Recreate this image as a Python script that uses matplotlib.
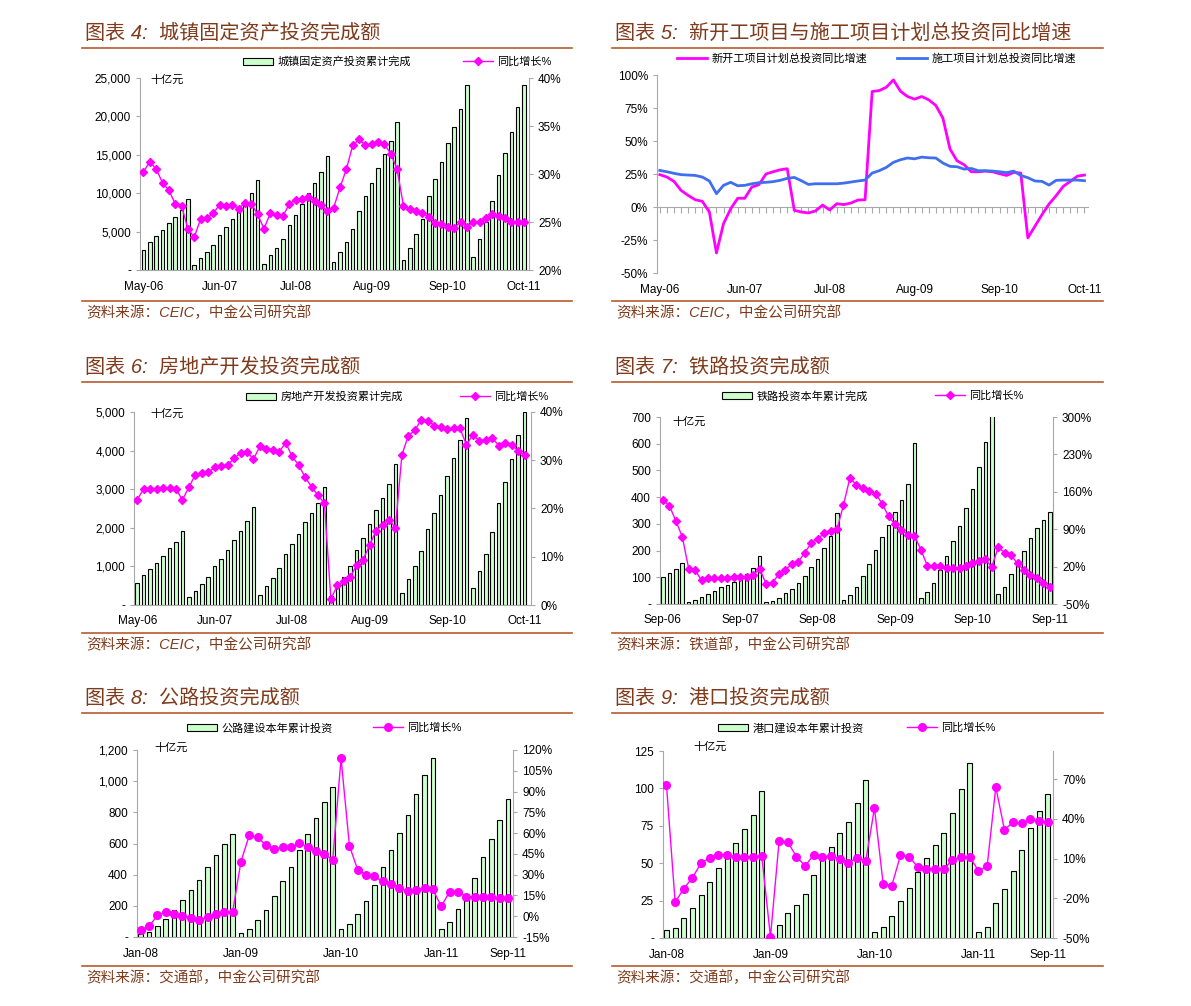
import numpy as np
import matplotlib
matplotlib.use("Agg")
import matplotlib.pyplot as plt
from matplotlib.ticker import FuncFormatter
from matplotlib.lines import Line2D
from matplotlib.patches import Patch

W, H = 1191, 1006
plt.rcParams["font.family"] = ["Liberation Sans", "Noto Sans CJK SC"]

BROWN = "#7f3b1c"
RULE = "#b85a2c"
GREY = "#a8a8a8"
BAR_FILL = "#ccffcc"
MAGENTA = "#ff00ff"
BLUE = "#3f6fef"

# ---- 图表4: 城镇固定资产投资 (May-06 .. Oct-11, no January) ----
fai_ticks = ["May-06", "Jun-07", "Jul-08", "Aug-09", "Sep-10", "Oct-11"]
fai_values = [2600, 3600, 4400, 5200, 6100, 6900, 7800, 9300,
              700, 1500, 2300, 3200, 4600, 5600, 6700, 7900, 8900, 10000, 11700,
              800, 1900, 2800, 4000, 5900, 7200, 8600, 10000, 11300, 12700, 14800,
              1100, 2400, 3700, 5300, 7700, 9600, 11300, 13300, 15100, 16800, 19300,
              1300, 2900, 4700, 6700, 9700, 11900, 14000, 16600, 18600, 21000, 24100,
              1700, 4000, 6200, 9000, 12400, 15200, 18000, 21200, 24100]
fai_growth = [30.2, 31.3, 30.5, 29.1, 28.3, 26.9, 26.7, 24.3,
              23.4, 25.3, 25.4, 25.9, 26.8, 26.7, 26.8, 26.4, 27.0, 26.9, 25.8,
              24.3, 25.9, 25.7, 25.6, 26.9, 27.3, 27.4, 27.6, 27.2, 26.8, 26.1,
              26.5, 28.6, 30.5, 33.0, 33.6, 33.0, 33.1, 33.3, 33.1, 32.1, 30.5,
              26.7, 26.4, 26.1, 25.9, 25.5, 24.9, 24.8, 24.5, 24.4, 25.0, 24.5,
              25.0, 25.0, 25.4, 25.8, 25.6, 25.4, 25.0, 25.0, 25.0]

# ---- 图表5: 新开工 / 施工项目计划总投资同比 ----
proj_ticks = ["May-06", "Jun-07", "Jul-08", "Aug-09", "Sep-10", "Oct-11"]
new_start = [24.5, 22.7, 19.4, 12.6, 8.8, 5.5, 4.3, -3.8, -34.8, -12.6,
             -1.5, 6.6, 6.6, 15.1, 16.9, 25.0, 26.7, 28.2, 29.0, -2.5,
             -3.8, -4.5, -3.0, 1.5, -2.3, 2.5, 1.8, 3.0, 5.3, 5.5,
             87.5, 88.2, 90.7, 96.3, 87.7, 83.7, 81.7, 83.7, 81.2, 76.9,
             67.3, 43.9, 35.0, 32.0, 26.7, 26.7, 27.2, 26.7, 25.2, 23.9,
             26.2, 25.7, -23.4, -14.6, -5.8, 2.3, 8.6, 15.6, 19.4, 23.4, 24.2]
under_constr = [27.7, 26.7, 25.5, 24.5, 24.2, 23.9, 22.7, 19.7, 10.1, 16.4,
                18.7, 16.1, 16.4, 17.6, 18.4, 18.7, 19.2, 20.2, 21.7, 22.4,
                19.9, 17.1, 17.6, 17.6, 17.6, 17.6, 18.1, 18.9, 19.7, 20.4,
                25.7, 27.5, 30.0, 33.8, 35.8, 37.1, 36.5, 37.8, 37.3, 37.1,
                33.3, 30.8, 30.5, 28.7, 29.2, 27.5, 27.5, 27.2, 26.7, 26.0,
                27.2, 23.9, 22.2, 19.7, 19.4, 16.6, 20.2, 20.4, 20.4, 20.4, 19.9]

# ---- 图表6: 房地产开发投资 ----
re_ticks = ["May-06", "Jun-07", "Jul-08", "Aug-09", "Sep-10", "Oct-11"]
re_values = [560, 770, 945, 1100, 1280, 1470, 1630, 1930,
             200, 350, 540, 730, 1000, 1200, 1420, 1690, 1930, 2170, 2540,
             250, 485, 700, 970, 1320, 1580, 1850, 2150, 2380, 2650, 3050,
             230, 470, 730, 1020, 1420, 1740, 2090, 2460, 2780, 3130, 3640,
             320, 685, 1000, 1390, 1980, 2380, 2840, 3350, 3800, 4280, 4840,
             430, 880, 1330, 1880, 2630, 3180, 3770, 4410, 5000]
re_growth = [21.8, 24.1, 24.0, 24.0, 24.3, 24.2, 24.0, 21.8,
             24.4, 27.0, 27.4, 27.5, 28.5, 28.9, 29.0, 30.4, 31.5, 31.8, 30.2,
             32.9, 32.4, 32.2, 31.8, 33.6, 30.8, 29.0, 26.5, 24.5, 22.7, 21.1,
             1.2, 4.1, 4.9, 5.8, 8.3, 9.4, 12.4, 15.4, 16.6, 17.7, 16.0,
             31.1, 35.1, 36.2, 38.4, 38.2, 37.2, 36.9, 36.5, 36.6, 36.6, 33.2,
             35.3, 34.0, 34.2, 34.7, 33.0, 33.6, 33.2, 32.0, 31.0]

# ---- 图表7: 铁路投资 (Sep-06 .. Sep-11) ----
rail_ticks = ["Sep-06", "Sep-07", "Sep-08", "Sep-09", "Sep-10", "Sep-11"]
rail_values = [100, 115, 130, 154,
               8, 16, 25, 36, 48, 64, 71, 83, 96, 114, 134, 178,
               8, 13, 24, 40, 55, 79, 106, 138, 170, 209, 253, 340,
               16, 35, 64, 106, 150, 201, 249, 295, 343, 390, 449, 603,
               24, 44, 80, 126, 178, 235, 291, 359, 430, 513, 606, 706,
               36, 64, 111, 150, 199, 246, 284, 316, 346]
rail_growth = [145, 134, 106, 76,
               16, 13, -6, -2, -2, -1, -1, 1, 1, 1, 4, 16,
               -12, -10, 6, 14, 25, 29, 46, 64, 72, 82, 86, 90,
               135, 186, 173, 167, 162, 156, 138, 114, 99, 89, 79, 78,
               52, 22, 21, 21, 18, 18, 18, 22, 26, 31, 34, 19,
               56, 46, 41, 26, 13, 4, -2, -10, -18]

# ---- 图表8: 公路投资 (Jan-08 .. Sep-11) ----
hw_ticks = ["Jan-08", "Jan-09", "Jan-10", "Jan-11", "Sep-11"]
hw_values = [20, 32, 71, 118, 176, 240, 303, 367, 447, 524, 597, 663,
             26, 52, 112, 174, 262, 361, 451, 556, 661, 766, 865, 964,
             52, 84, 150, 228, 333, 451, 556, 670, 781, 919, 1041, 1149,
             52, 97, 178, 264, 380, 511, 629, 754, 884]
hw_growth = [-10.2, -7.3, 0.7, 2.8, 1.4, 0.4, -1.3, -2.7, -0.8, 1.4, 3.1, 2.8,
             39.3, 58.4, 57.0, 51.2, 48.7, 49.7, 49.7, 52.6, 50.2, 47.3, 45.1, 40.5,
             114.0, 50.9, 33.3, 30.1, 28.7, 25.1, 23.6, 20.7, 17.9, 19.1, 20.5, 19.3,
             7.2, 17.6, 17.8, 14.2, 13.9, 13.9, 13.9, 13.5, 13.5]

# ---- 图表9: 港口投资 (Jan-08 .. Sep-11) ----
port_ticks = ["Jan-08", "Jan-09", "Jan-10", "Jan-11", "Sep-11"]
port_values = [5.6, 6.9, 13.2, 20.1, 29.0, 37.5, 46.9, 57.0, 63.8, 72.8, 81.9, 98.2,
               2.2, 8.5, 16.5, 22.1, 29.7, 42.2, 53.6, 60.9, 70.1, 77.7, 90.0, 105.8,
               4.0, 7.6, 14.5, 25.0, 33.3, 43.8, 53.3, 62.3, 70.5, 83.7, 99.6, 117.0,
               4.0, 7.6, 23.4, 32.6, 44.9, 58.9, 73.4, 85.0, 96.2]
port_growth = [65.5, -23.0, -12.7, -4.4, 6.7, 10.5, 13.0, 13.0, 11.3, 11.3, 11.3, 11.8,
               -49.2, 23.4, 22.3, 11.5, 4.4, 13.0, 11.3, 12.0, 9.7, 7.0, 10.5, 8.5,
               48.1, -8.9, -10.4, 12.3, 11.5, 3.4, 2.2, 2.2, 1.9, 9.0, 11.3, 11.3,
               0.7, 4.2, 63.9, 31.7, 37.5, 36.5, 39.5, 38.0, 37.5]


def fx(x):
    return x / W


def fy(y):
    return 1 - y / H


def px_axes(fig, l, t, r, b):
    return fig.add_axes([l / W, 1 - b / H, (r - l) / W, (b - t) / H])


def grey_spines(ax):
    for s in ax.spines.values():
        s.set_color(GREY)
        s.set_linewidth(0.8)
    ax.spines["top"].set_visible(False)
    ax.tick_params(colors=GREY, labelcolor="black", labelsize=8.5, length=3, width=0.8)


def frame(fig, x0, x1, title, title_y, rule_y, src, src_rule_y):
    fig.text(fx(x0 + 3), fy(title_y), title, fontsize=14.5, color=BROWN,
             style="italic", va="center", ha="left")
    fig.add_artist(Line2D([fx(x0), fx(x1)], [fy(rule_y), fy(rule_y)], color=RULE, lw=1.2))
    fig.add_artist(Line2D([fx(x0), fx(x1)], [fy(src_rule_y), fy(src_rule_y)], color=RULE, lw=1.2))
    fig.text(fx(x0 + 4), fy(src_rule_y + 12), src, fontsize=10.5, color=BROWN,
             style="italic", va="center", ha="left")


def legend_item(fig, handle, label, x, y):
    fig.legend([handle], [label], loc="center left", bbox_to_anchor=(fx(x), fy(y)),
               frameon=False, fontsize=8, borderpad=0, borderaxespad=0,
               handlelength=2.7, handletextpad=0.4)


def bar_line_panel(fig, box, values, growth, tick_labels, tick_step, xlim,
                   ylim_l, yticks_l, ylim_r, yticks_r, marker, ms,
                   bar_label, leg_bar_x, leg_line_x, leg_y, unit_xy, pad=8):
    ax = px_axes(fig, *box)
    x = np.arange(len(values))
    ax.bar(x, values, width=0.55, color=BAR_FILL, edgecolor="black", linewidth=0.8)
    ax.set_xlim(*xlim)
    ax.set_ylim(*ylim_l)
    ax.set_yticks(yticks_l)
    ax.yaxis.set_major_formatter(FuncFormatter(lambda v, p: "-" if v == 0 else f"{v:,.0f}"))
    ticks = [min(i * tick_step, len(values) - 1) for i in range(len(tick_labels))]
    ax.set_xticks(ticks)
    ax.set_xticklabels(tick_labels)
    grey_spines(ax)
    ax.spines["right"].set_visible(False)
    ax.tick_params(axis="x", length=0, pad=pad)

    ax2 = ax.twinx()
    ax2.plot(x, growth, color=MAGENTA, lw=1, marker=marker, ms=ms, mec=MAGENTA)
    ax2.set_ylim(*ylim_r)
    ax2.set_yticks(yticks_r)
    ax2.yaxis.set_major_formatter(FuncFormatter(lambda v, p: f"{v:.0f}%"))
    grey_spines(ax2)
    ax2.spines["left"].set_visible(False)
    ax2.spines["bottom"].set_visible(False)

    fig.text(fx(unit_xy[0]), fy(unit_xy[1]), "十亿元", fontsize=8, va="center", ha="left")
    legend_item(fig, Patch(facecolor=BAR_FILL, edgecolor="black", lw=0.8), bar_label, leg_bar_x, leg_y)
    legend_item(fig, Line2D([], [], color=MAGENTA, lw=1, marker=marker, ms=ms), "同比增长%", leg_line_x, leg_y)
    return ax, ax2


def main():
    fig = plt.figure(figsize=(W / 100, H / 100), dpi=100)

    # 图表4
    frame(fig, 82, 572, "图表 4:  城镇固定资产投资完成额", 33, 48,
          "资料来源：CEIC，中金公司研究部", 301)
    bar_line_panel(fig, (140, 78, 529, 270), fai_values, fai_growth, fai_ticks, 12,
                   (-0.55, 60.8), (0, 25000), range(0, 25001, 5000),
                   (20, 40), range(20, 41, 5), "D", 4.5,
                   "城镇固定资产投资累计完成", 243, 463, 62, (150, 80))

    # 图表5
    frame(fig, 612, 1103, "图表 5:  新开工项目与施工项目计划总投资同比增速", 33, 48,
          "资料来源：CEIC，中金公司研究部", 301)
    ax = px_axes(fig, 657, 75, 1088, 273)
    x = np.arange(len(new_start))
    ax.plot(x, new_start, color=MAGENTA, lw=2)
    ax.plot(x, under_constr, color=BLUE, lw=2)
    ax.set_xlim(-0.4, 60.5)
    ax.set_ylim(-50, 100)
    ax.set_yticks(range(-50, 101, 25))
    ax.yaxis.set_major_formatter(FuncFormatter(lambda v, p: f"{v:.0f}%"))
    ax.set_xticks([i * 12 for i in range(len(proj_ticks))])
    ax.set_xticklabels(proj_ticks)
    grey_spines(ax)
    ax.spines["right"].set_visible(False)
    ax.spines["bottom"].set_visible(False)
    ax.tick_params(axis="x", length=0, pad=8)
    zero = ax.secondary_xaxis(50 / 150)
    zero.set_xticks(x)
    zero.tick_params(axis="x", labelbottom=False, length=4, colors=GREY, width=0.8)
    zero.spines["bottom"].set_color(GREY)
    legend_item(fig, Line2D([], [], color=MAGENTA, lw=2), "新开工项目计划总投资同比增速", 677, 59)
    legend_item(fig, Line2D([], [], color=BLUE, lw=2), "施工项目计划总投资同比增速", 897, 59)

    # 图表6
    frame(fig, 82, 572, "图表 6:  房地产开发投资完成额", 367, 382,
          "资料来源：CEIC，中金公司研究部", 633)
    bar_line_panel(fig, (134, 412, 531, 605), re_values, re_growth, re_ticks, 12,
                   (-0.5, 61.0), (0, 5000), range(0, 5001, 1000),
                   (0, 40), range(0, 41, 10), "D", 4.5,
                   "房地产开发投资累计完成", 246, 460, 397, (150, 414), pad=7)

    # 图表7
    frame(fig, 612, 1103, "图表 7:  铁路投资完成额", 367, 382,
          "资料来源：铁道部，中金公司研究部", 633)
    bar_line_panel(fig, (660, 417, 1053, 604), rail_values, rail_growth, rail_ticks, 12,
                   (-0.45, 60.5), (0, 700), range(0, 701, 100),
                   (-50, 300), range(-50, 301, 70), "D", 4.5,
                   "铁路投资本年累计完成", 722, 935, 396, (672, 422), pad=7)

    # 图表8
    frame(fig, 82, 572, "图表 8:  公路投资完成额", 698, 713,
          "资料来源：交通部，中金公司研究部", 966)
    bar_line_panel(fig, (137, 750, 513, 937), hw_values, hw_growth, hw_ticks, 12,
                   (-0.45, 44.6), (0, 1200), range(0, 1201, 200),
                   (-15, 120), range(-15, 121, 15), "o", 5.5,
                   "公路建设本年累计投资", 187, 373, 728, (154, 748))

    # 图表9
    frame(fig, 612, 1103, "图表 9:  港口投资完成额", 698, 713,
          "资料来源：交通部，中金公司研究部", 966)
    bar_line_panel(fig, (663, 751, 1053, 938), port_values, port_growth, port_ticks, 12,
                   (-0.4, 44.6), (0, 125), range(0, 126, 25),
                   (-50, 91.2), range(-50, 71, 30), "o", 5.5,
                   "港口建设本年累计投资", 718, 907, 728, (693, 747))

    fig.savefig("out.png", dpi=100)


if __name__ == "__main__":
    main()
